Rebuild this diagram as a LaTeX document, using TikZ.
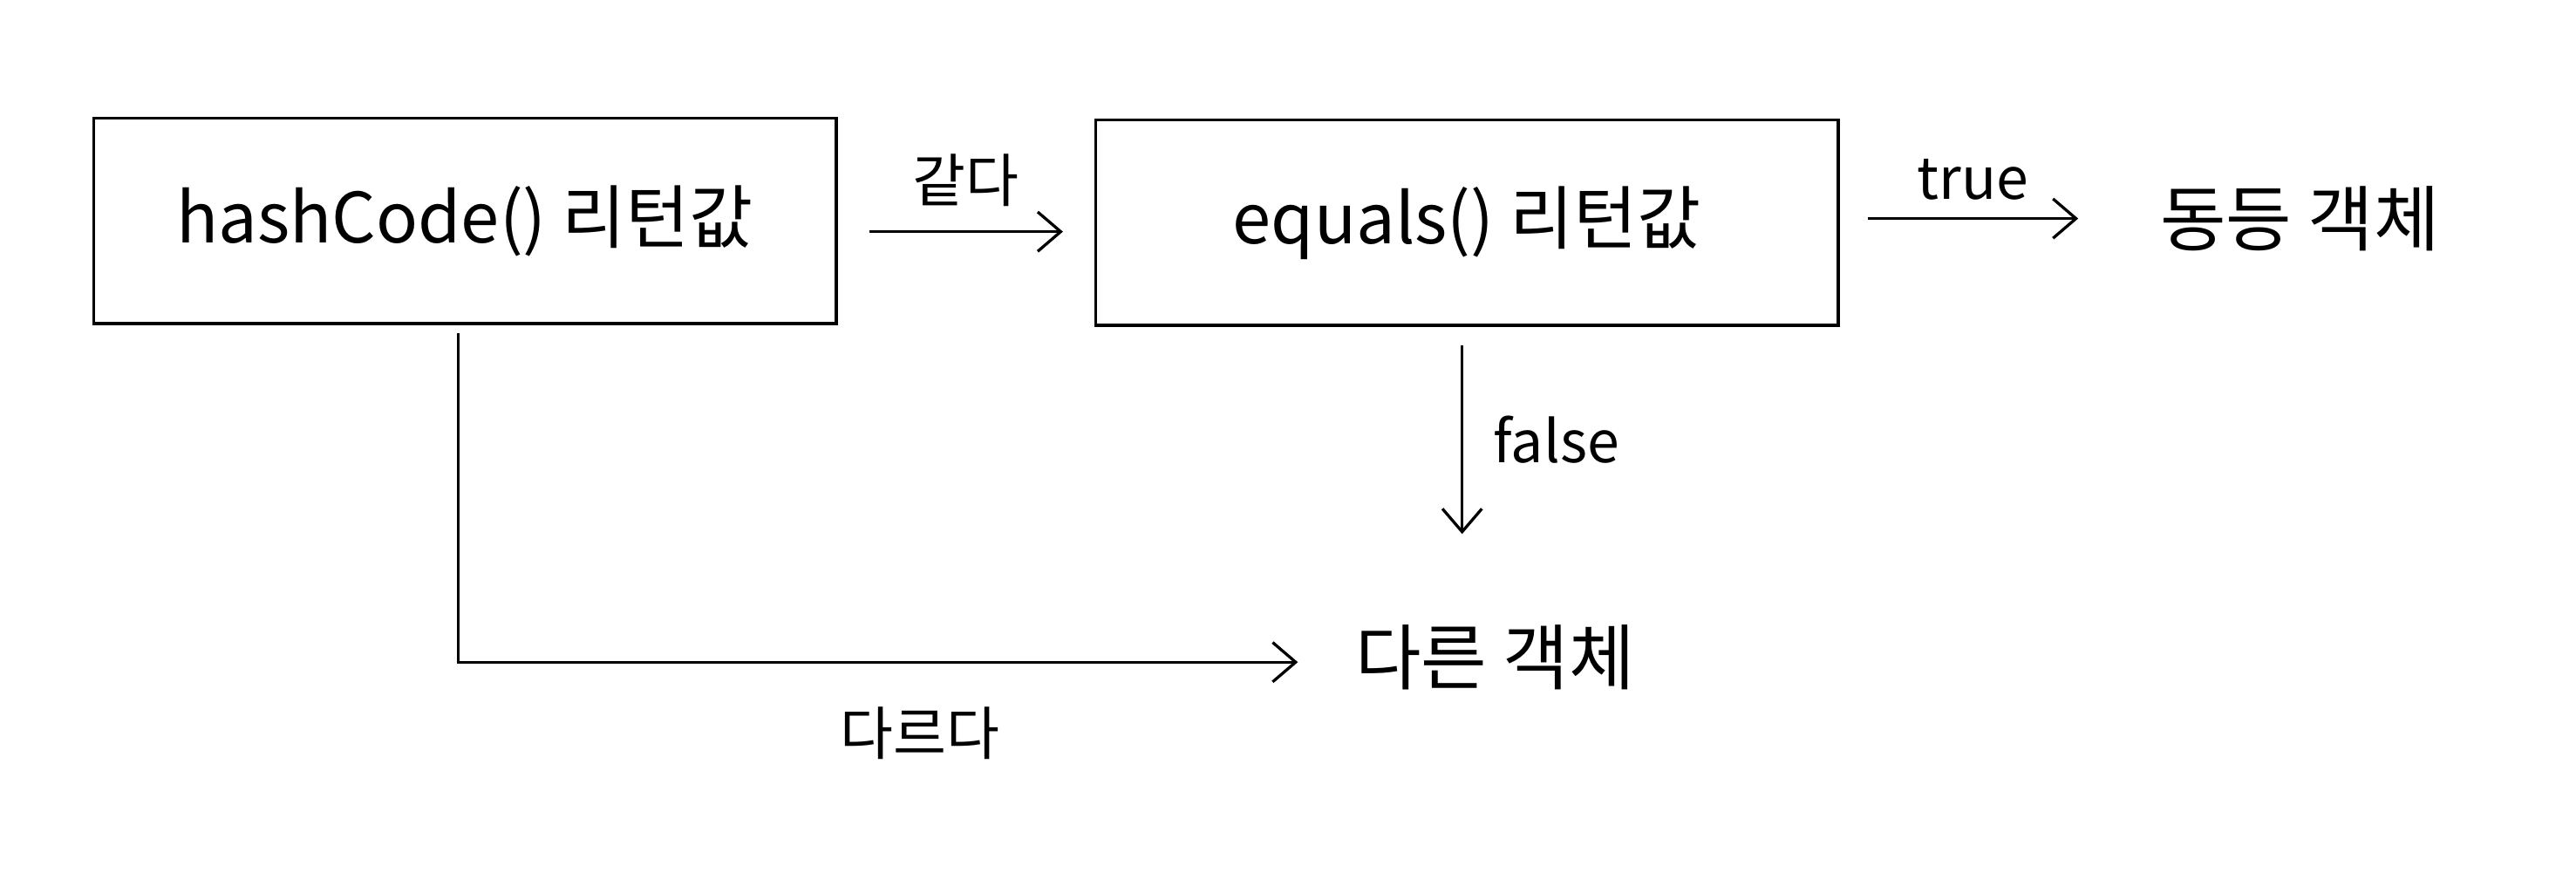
\documentclass[tikz,border=0pt]{standalone}
\usetikzlibrary{arrows.meta}
\usepackage{fontspec}
\setmainfont{Noto Sans CJK KR}
\begin{document}
\begin{tikzpicture}[x=0.5mm,y=-0.5mm,line width=2.5pt,
  bx/.style={draw,minimum width=226mm,minimum height=62.5mm,font=\fontsize{60}{68}\selectfont},
  lb/.style={font=\fontsize{50}{58}\selectfont},
  big/.style={font=\fontsize{62}{70}\selectfont},
  arr/.style={-{Straight Barb[length=7mm,width=12mm]}}]
\useasboundingbox (0,0) rectangle (1568,531);
\node[bx] (h) at (283,134.5) {hashCode() 리턴값};
\node[bx] (e) at (893,135.5) {equals() 리턴값};
\node[big] (same) at (1400,133) {동등 객체};
\node[big] (diff) at (910,400) {다른 객체};
\coordinate (a1) at (529,141); \coordinate (a2) at (647,141);
\draw[arr] (a1) -- node[lb,above=6mm]{같다} (a2);
\coordinate (t1) at (1137,133); \coordinate (t2) at (1265,133);
\draw[arr] (t1) -- node[lb,above=4mm]{true} (t2);
\coordinate (f1) at (890,210); \coordinate (f2) at (890,325);
\draw[arr] (f1) -- node[lb,right=8mm]{false} (f2);
\coordinate (d1) at (279,203); \coordinate (d2) at (279,403); \coordinate (d3) at (790,403);
\draw[arr] (d1) -- (d2) -- node[lb,below=12mm,pos=0.55]{다르다} (d3);
\end{tikzpicture}
\end{document}
